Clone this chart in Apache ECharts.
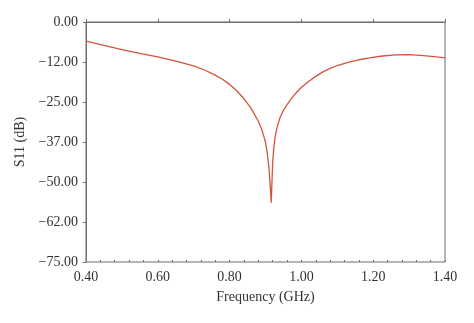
<!DOCTYPE html>
<html><head><meta charset="utf-8">
<script src="https://cdn.jsdelivr.net/npm/echarts@6/dist/echarts.min.js"></script>
<style>html,body{margin:0;padding:0;background:#fff}#c{width:474px;height:323px}</style>
</head><body><div id="c"></div>
<script>
const freq = [0.40,0.45,0.50,0.55,0.60,0.65,0.70,0.73,0.76,0.78,0.80,0.82,0.84,0.86,0.88,0.89,0.90,0.905,0.91,0.913,0.916,0.918,0.920,0.923,0.927,0.932,0.94,0.95,0.96,0.98,1.00,1.02,1.04,1.06,1.08,1.10,1.13,1.16,1.19,1.22,1.26,1.30,1.34,1.37,1.40];
const s11 = [-6.0,-7.3,-8.6,-9.8,-10.9,-12.2,-13.7,-15.0,-16.6,-17.9,-19.5,-21.5,-24.0,-27.0,-31.0,-33.7,-37.5,-41.0,-46.0,-51.0,-56.5,-50.0,-44.0,-39.5,-35.8,-33.0,-30.0,-27.6,-25.8,-22.8,-20.4,-18.6,-17.0,-15.6,-14.5,-13.6,-12.6,-11.8,-11.2,-10.7,-10.3,-10.2,-10.5,-10.8,-11.2];
const yTicks = [0, -12.5, -25, -37.5, -50, -62.5, -75];

const font = '"Liberation Serif", "DejaVu Serif", serif';
const axisColor = '#6e6e6e';
const chart = echarts.init(document.getElementById('c'));
chart.setOption({
  animation: false,
  grid: {left: 86, right: 29, top: 22, bottom: 61, show: true, borderColor: axisColor, borderWidth: 1},
  xAxis: [{
    type: 'value', min: 0.4, max: 1.4, interval: 0.2,
    name: 'Frequency (GHz)', nameLocation: 'middle', nameGap: 28,
    nameTextStyle: {fontFamily: font, fontSize: 14, color: '#333'},
    axisLine: {lineStyle: {color: axisColor}},
    axisTick: {inside: true, length: 3, lineStyle: {color: axisColor}},
    axisLabel: {fontFamily: font, fontSize: 14, color: '#333', margin: 8, formatter: v => v.toFixed(2)},
    splitLine: {show: false}
  }, {
    type: 'value', min: 0.4, max: 1.4, interval: 0.04, position: 'bottom',
    axisLine: {show: false},
    axisTick: {inside: true, length: 2, lineStyle: {color: axisColor}},
    axisLabel: {show: false},
    splitLine: {show: false}
  }],
  yAxis: {
    type: 'value', min: -75, max: 0, interval: 12.5,
    name: 'S11 (dB)', nameLocation: 'middle', nameGap: 57, nameRotate: 90,
    nameTextStyle: {fontFamily: font, fontSize: 14, color: '#333'},
    axisLine: {lineStyle: {color: axisColor}},
    axisTick: {inside: false, length: 3, lineStyle: {color: axisColor}},
    axisLabel: {fontFamily: font, fontSize: 14, color: '#333', margin: 8,
      formatter: v => { const t = Math.trunc(v); return (t < 0 ? '\u2212' : '') + Math.abs(t).toFixed(2); }},
    splitLine: {show: false}
  },
  series: [{
    type: 'line', data: freq.map((f, i) => [f, s11[i]]), showSymbol: false,
    smooth: false,
    lineStyle: {color: '#d2553a', width: 1.3}
  }]
});
</script></body></html>
